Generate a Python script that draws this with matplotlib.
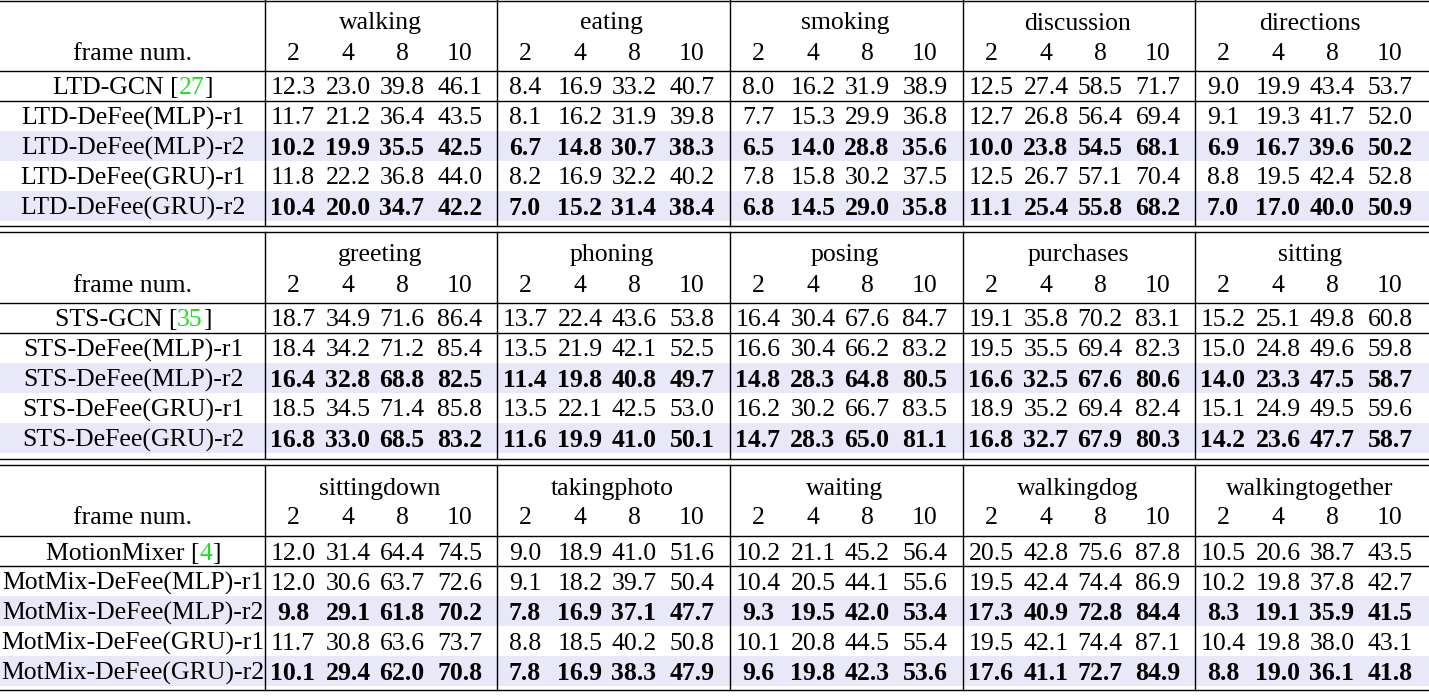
import numpy as np
import matplotlib.pyplot as plt

plt.rcParams['font.family'] = ['Liberation Serif', 'DejaVu Serif']

frames = ['2', '4', '8', '10']

actions1 = ['walking', 'eating', 'smoking', 'discussion', 'directions']
methods1 = ['LTD-GCN', 'LTD-DeFee(MLP)-r1', 'LTD-DeFee(MLP)-r2', 'LTD-DeFee(GRU)-r1', 'LTD-DeFee(GRU)-r2']
cite1 = '27'
vals1 = [
    [['12.3', '23.0', '39.8', '46.1'], ['11.7', '21.2', '36.4', '43.5'], ['10.2', '19.9', '35.5', '42.5'], ['11.8', '22.2', '36.8', '44.0'], ['10.4', '20.0', '34.7', '42.2']],
    [['8.4', '16.9', '33.2', '40.7'], ['8.1', '16.2', '31.9', '39.8'], ['6.7', '14.8', '30.7', '38.3'], ['8.2', '16.9', '32.2', '40.2'], ['7.0', '15.2', '31.4', '38.4']],
    [['8.0', '16.2', '31.9', '38.9'], ['7.7', '15.3', '29.9', '36.8'], ['6.5', '14.0', '28.8', '35.6'], ['7.8', '15.8', '30.2', '37.5'], ['6.8', '14.5', '29.0', '35.8']],
    [['12.5', '27.4', '58.5', '71.7'], ['12.7', '26.8', '56.4', '69.4'], ['10.0', '23.8', '54.5', '68.1'], ['12.5', '26.7', '57.1', '70.4'], ['11.1', '25.4', '55.8', '68.2']],
    [['9.0', '19.9', '43.4', '53.7'], ['9.1', '19.3', '41.7', '52.0'], ['6.9', '16.7', '39.6', '50.2'], ['8.8', '19.5', '42.4', '52.8'], ['7.0', '17.0', '40.0', '50.9']],
]

actions2 = ['greeting', 'phoning', 'posing', 'purchases', 'sitting']
methods2 = ['STS-GCN', 'STS-DeFee(MLP)-r1', 'STS-DeFee(MLP)-r2', 'STS-DeFee(GRU)-r1', 'STS-DeFee(GRU)-r2']
cite2 = '35'
vals2 = [
    [['18.7', '34.9', '71.6', '86.4'], ['18.4', '34.2', '71.2', '85.4'], ['16.4', '32.8', '68.8', '82.5'], ['18.5', '34.5', '71.4', '85.8'], ['16.8', '33.0', '68.5', '83.2']],
    [['13.7', '22.4', '43.6', '53.8'], ['13.5', '21.9', '42.1', '52.5'], ['11.4', '19.8', '40.8', '49.7'], ['13.5', '22.1', '42.5', '53.0'], ['11.6', '19.9', '41.0', '50.1']],
    [['16.4', '30.4', '67.6', '84.7'], ['16.6', '30.4', '66.2', '83.2'], ['14.8', '28.3', '64.8', '80.5'], ['16.2', '30.2', '66.7', '83.5'], ['14.7', '28.3', '65.0', '81.1']],
    [['19.1', '35.8', '70.2', '83.1'], ['19.5', '35.5', '69.4', '82.3'], ['16.6', '32.5', '67.6', '80.6'], ['18.9', '35.2', '69.4', '82.4'], ['16.8', '32.7', '67.9', '80.3']],
    [['15.2', '25.1', '49.8', '60.8'], ['15.0', '24.8', '49.6', '59.8'], ['14.0', '23.3', '47.5', '58.7'], ['15.1', '24.9', '49.5', '59.6'], ['14.2', '23.6', '47.7', '58.7']],
]

actions3 = ['sittingdown', 'takingphoto', 'waiting', 'walkingdog', 'walkingtogether']
methods3 = ['MotionMixer', 'MotMix-DeFee(MLP)-r1', 'MotMix-DeFee(MLP)-r2', 'MotMix-DeFee(GRU)-r1', 'MotMix-DeFee(GRU)-r2']
cite3 = '4'
vals3 = [
    [['12.0', '31.4', '64.4', '74.5'], ['12.0', '30.6', '63.7', '72.6'], ['9.8', '29.1', '61.8', '70.2'], ['11.7', '30.8', '63.6', '73.7'], ['10.1', '29.4', '62.0', '70.8']],
    [['9.0', '18.9', '41.0', '51.6'], ['9.1', '18.2', '39.7', '50.4'], ['7.8', '16.9', '37.1', '47.7'], ['8.8', '18.5', '40.2', '50.8'], ['7.8', '16.9', '38.3', '47.9']],
    [['10.2', '21.1', '45.2', '56.4'], ['10.4', '20.5', '44.1', '55.6'], ['9.3', '19.5', '42.0', '53.4'], ['10.1', '20.8', '44.5', '55.4'], ['9.6', '19.8', '42.3', '53.6']],
    [['20.5', '42.8', '75.6', '87.8'], ['19.5', '42.4', '74.4', '86.9'], ['17.3', '40.9', '72.8', '84.4'], ['19.5', '42.1', '74.4', '87.1'], ['17.6', '41.1', '72.7', '84.9']],
    [['10.5', '20.6', '38.7', '43.5'], ['10.2', '19.8', '37.8', '42.7'], ['8.3', '19.1', '35.9', '41.5'], ['10.4', '19.8', '38.0', '43.1'], ['8.8', '19.0', '36.1', '41.8']],
]

blocks = [(actions1, methods1, cite1, vals1), (actions2, methods2, cite2, vals2), (actions3, methods3, cite3, vals3)]

W, H = 1429, 696
fig = plt.figure(figsize=(W / 100, H / 100), dpi=100)
ax = fig.add_axes([0, 0, 1, 1])
ax.set_xlim(0, W)
ax.set_ylim(H, 0)
ax.axis('off')

fs = 18.5
hl = '#e8e8f8'
gx = [265, 497, 730, 963, 1195]
offs = [28, 83, 137, 195]
lab_x = 133
lw = 1.0
VA = 'center_baseline'

fig.canvas.draw()
rend = fig.canvas.get_renderer()

def label_with_cite(y, name, cite):
    t1 = ax.text(0, y, name + ' [', fontsize=fs, va=VA, ha='left')
    t2 = ax.text(0, y, cite, fontsize=fs, va=VA, ha='left', color='#22dd22')
    t3 = ax.text(0, y, ']', fontsize=fs, va=VA, ha='left')
    inv = ax.transData.inverted()
    ws = []
    for t in (t1, t2, t3):
        bb = t.get_window_extent(rend)
        ws.append(inv.transform((bb.x1, 0))[0] - inv.transform((bb.x0, 0))[0])
    x = lab_x - sum(ws) / 2
    for t, w in zip((t1, t2, t3), ws):
        t.set_x(x)
        x += w

starts = [0, 232, 465]
ax.plot([0, W], [1, 1], color='k', lw=lw)
for bi, (acts, meths, cite, vals) in enumerate(blocks):
    b = starts[bi]
    if bi > 0:
        ax.plot([0, W], [b - 6, b - 6], color='k', lw=lw)
        ax.plot([0, W], [b, b], color='k', lw=lw)
    row_y = [b + 86] + [b + 116 + 30 * k for k in range(4)]
    bottom = b + 226 if bi < 2 else 690
    for k in (2, 4):
        ax.add_patch(plt.Rectangle((0, row_y[k] - 15), W, 30, color=hl, lw=0, zorder=0))
    ax.plot([0, W], [b + 71, b + 71], color='k', lw=lw)
    ax.plot([0, W], [b + 101, b + 101], color='k', lw=lw)
    if bi == 2:
        ax.plot([0, W], [bottom, bottom], color='k', lw=lw)
    for x in gx:
        ax.plot([x, x], [b, bottom], color='k', lw=lw)
    ax.text(lab_x, b + 51, 'frame num.', fontsize=fs, ha='center', va=VA)
    label_with_cite(row_y[0], meths[0], cite)
    for k in range(1, 5):
        ax.text(lab_x, row_y[k], meths[k], fontsize=fs, ha='center', va=VA)
    for g, act in enumerate(acts):
        cx = [gx[g] + o for o in offs]
        ax.text(gx[g] + 115, b + 21, act, fontsize=fs, ha='center', va=VA)
        for c, fr in enumerate(frames):
            ax.text(cx[c], b + 51, fr, fontsize=fs, ha='center', va=VA)
        for r in range(5):
            bold = r in (2, 4)
            for c in range(4):
                ax.text(cx[c], row_y[r], vals[g][r][c], fontsize=fs, ha='center', va=VA,
                        fontweight='bold' if bold else 'normal')

fig.savefig('out.png', dpi=100)
